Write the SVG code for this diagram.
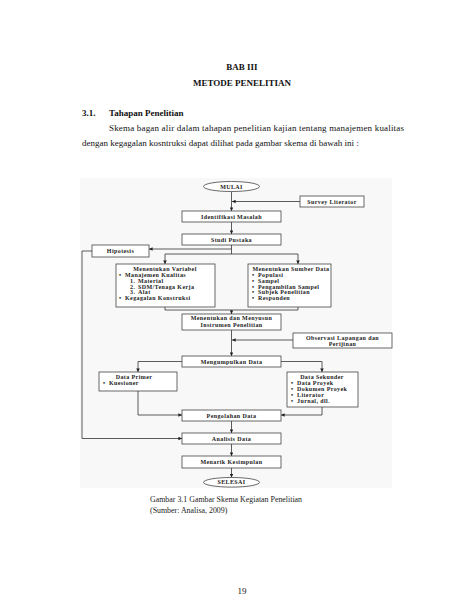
<svg xmlns="http://www.w3.org/2000/svg" width="474" height="613" viewBox="0 0 474 613">
<defs>
<marker id="ah" viewBox="0 0 6 6" refX="6" refY="3" markerWidth="3.6" markerHeight="3.6" markerUnits="userSpaceOnUse" orient="auto">
<path d="M0,0 L6,3 L0,6 z" fill="#222"/>
</marker>
<style>
.pg{font-family:"Liberation Serif","Times New Roman",serif;fill:#111}
.hd{font-size:9px;font-weight:bold}
.bd{font-size:9px}
.cap{font-size:7.9px;fill:#222}
.box{fill:#fff;stroke:#444;stroke-width:0.8}
.t{font-family:"Liberation Serif","Times New Roman",serif;font-size:6px;font-weight:bold;letter-spacing:0.4px;fill:#222}
.c{text-anchor:middle}
.ln{fill:none;stroke:#333;stroke-width:0.8}
.ar{fill:none;stroke:#333;stroke-width:0.8;marker-end:url(#ah)}
</style>
</defs>
<rect width="474" height="613" fill="#fff"/>
<g class="pg">
<text class="hd" x="242" y="70" text-anchor="middle">BAB III</text>
<text class="hd" x="242" y="85.5" text-anchor="middle">METODE PENELITIAN</text>
<text class="hd" x="82" y="116">3.1.</text>
<text class="hd" x="109" y="116">Tahapan Penelitian</text>
<text class="bd" x="109" y="131" textLength="295" lengthAdjust="spacing">Skema bagan alir dalam tahapan penelitian kajian tentang manajemen kualitas</text>
<text class="bd" x="82" y="146">dengan kegagalan kosntruksi dapat dilihat pada gambar skema di bawah ini :</text>
</g>
<rect x="80" y="178" width="312" height="310" fill="#f8f8f8"/>
<g id="connectors">
<path class="ar" d="M231.5,191.5 V211"/>
<path class="ar" d="M300,201.5 H232"/>
<path class="ar" d="M231.5,222 V234"/>
<path class="ln" d="M231.5,245 V254"/>
<path class="ar" d="M231.5,249 H149"/>
<path class="ln" d="M165,254 H298"/>
<path class="ar" d="M165,254 V264"/>
<path class="ar" d="M298,254 V264"/>
<path class="ln" d="M165,307 V310 H298 V307"/>
<path class="ar" d="M231.5,310 V314"/>
<path class="ar" d="M231.5,330 V356"/>
<path class="ar" d="M293,340 H232"/>
<path class="ar" d="M182,361.5 H138 V372"/>
<path class="ar" d="M281,361.5 H322 V372"/>
<path class="ar" d="M138,391 V415 H182"/>
<path class="ar" d="M322,407 V415 H281"/>
<path class="ar" d="M231.5,421 V433"/>
<path class="ar" d="M92,251 H82 V438.5 H182"/>
<path class="ar" d="M231.5,444 V456"/>
<path class="ar" d="M231.5,468 V477.5"/>
</g>
<g id="mulai"><ellipse class="box" cx="231.5" cy="186.5" rx="28" ry="5"/><text class="t c" x="231.5" y="188.6">MULAI</text></g>
<g id="survey"><rect class="box" x="300" y="196" width="64" height="11"/><text class="t c" x="332" y="203.6">Survey Literator</text></g>
<g id="identifikasi"><rect class="box" x="182" y="211" width="99" height="11"/><text class="t c" x="231.5" y="218.6">Identifikasi Masalah</text></g>
<g id="studi"><rect class="box" x="182" y="234" width="99" height="11"/><text class="t c" x="231.5" y="241.6">Studi Pustaka</text></g>
<g id="hipotesis"><rect class="box" x="92" y="245" width="57" height="12"/><text class="t c" x="120.5" y="253.1">Hipotesis</text></g>
<g id="variabel"><rect class="box" x="116" y="264" width="99" height="43"/>
<text class="t c" x="165" y="271.3">Menentukan Variabel</text>
<text class="t" x="119" y="277">•</text><text class="t" x="125" y="277">Manajemen Kualitas</text>
<text class="t" x="130" y="283">1.</text><text class="t" x="138" y="283">Material</text>
<text class="t" x="130" y="288.7">2.</text><text class="t" x="138" y="288.7">SDM/Tenaga Kerja</text>
<text class="t" x="130" y="294.3">3.</text><text class="t" x="138" y="294.3">Alat</text>
<text class="t" x="119" y="300.3">•</text><text class="t" x="125" y="300.3">Kegagalan Konstruksi</text>
</g>
<g id="sumber"><rect class="box" x="248" y="264" width="83" height="43"/>
<text class="t c" x="291" y="271.3">Menentukan Sumber Data</text>
<text class="t" x="252" y="277">•</text><text class="t" x="258" y="277">Populasi</text>
<text class="t" x="252" y="283">•</text><text class="t" x="258" y="283">Sampel</text>
<text class="t" x="252" y="288.7">•</text><text class="t" x="258" y="288.7">Pengambilan Sampel</text>
<text class="t" x="252" y="294.3">•</text><text class="t" x="258" y="294.3">Subjek Penelitian</text>
<text class="t" x="252" y="300.3">•</text><text class="t" x="258" y="300.3">Responden</text>
</g>
<g id="instrumen"><rect class="box" x="182" y="314" width="99" height="16"/>
<text class="t c" x="231.5" y="319.6">Menentukan dan Menyusun</text>
<text class="t c" x="231.5" y="327.2">Instrumen Penelitian</text></g>
<g id="observasi"><rect class="box" x="293" y="333" width="99" height="15"/>
<text class="t c" x="342.5" y="339.8">Observasi Lapangan dan</text>
<text class="t c" x="342.5" y="346">Perijinan</text></g>
<g id="mengumpulkan"><rect class="box" x="182" y="356" width="99" height="11"/><text class="t c" x="231.5" y="363.6">Mengumpulkan Data</text></g>
<g id="primer"><rect class="box" x="99" y="372" width="78" height="19"/>
<text class="t c" x="134" y="378.8">Data Primer</text>
<text class="t" x="103" y="384.8">•</text><text class="t" x="109" y="384.8">Kuesioner</text></g>
<g id="sekunder"><rect class="box" x="287" y="372" width="71" height="35"/>
<text class="t c" x="322" y="378.8">Data Sekunder</text>
<text class="t" x="291" y="384.8">•</text><text class="t" x="297" y="384.8">Data Proyek</text>
<text class="t" x="291" y="390.8">•</text><text class="t" x="297" y="390.8">Dokumen Proyek</text>
<text class="t" x="291" y="396.5">•</text><text class="t" x="297" y="396.5">Literator</text>
<text class="t" x="291" y="402.7">•</text><text class="t" x="297" y="402.7">Jurnal, dll.</text></g>
<g id="pengolahan"><rect class="box" x="182" y="410" width="99" height="11"/><text class="t c" x="231.5" y="417.6">Pengolahan Data</text></g>
<g id="analisis"><rect class="box" x="182" y="433" width="99" height="11"/><text class="t c" x="231.5" y="440.6">Analisis Data</text></g>
<g id="menarik"><rect class="box" x="182" y="456" width="99" height="12"/><text class="t c" x="231.5" y="464.1">Menarik Kesimpulan</text></g>
<g id="selesai"><ellipse class="box" cx="231.5" cy="482.3" rx="28" ry="4.8"/><text class="t c" x="231.5" y="484.4">SELESAI</text></g>
<g class="pg">
<text class="cap" x="150" y="502">Gambar 3.1 Gambar Skema Kegiatan Penelitian</text>
<text class="cap" x="150" y="513">(Sumber: Analisa, 2009)</text>
<text class="bd" x="242" y="594" text-anchor="middle">19</text>
</g>
</svg>
